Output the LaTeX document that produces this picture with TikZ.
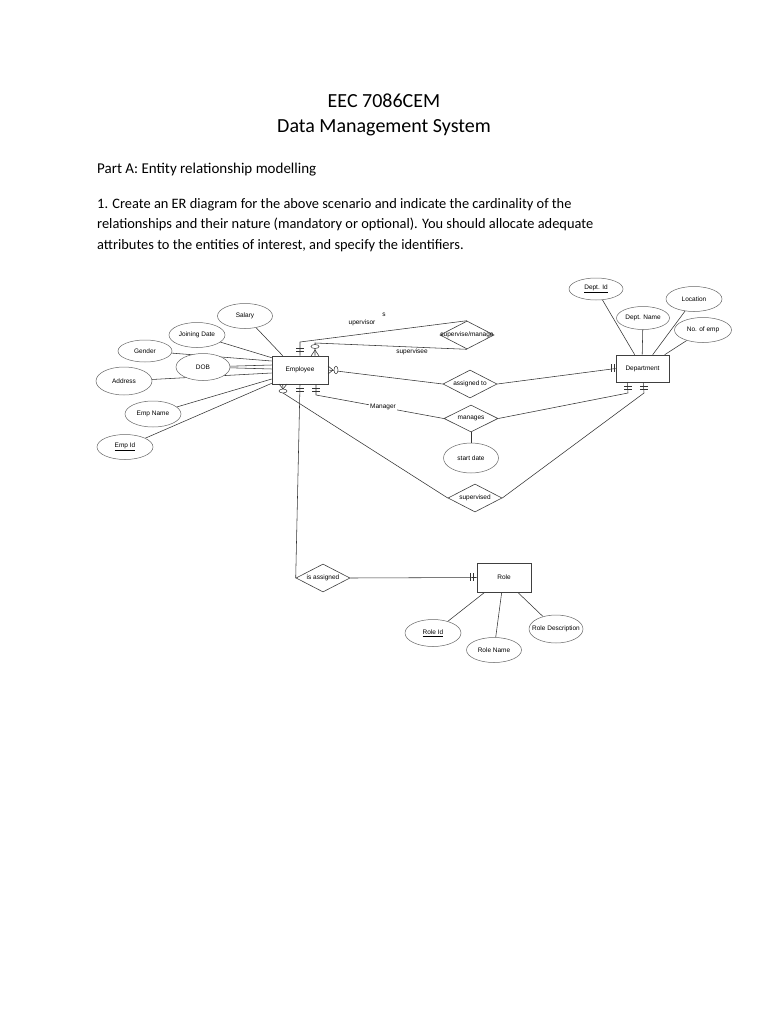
\documentclass[tikz,border=0pt]{standalone}
\usepackage{fontspec}
\setmainfont{Carlito}
\newfontfamily\arialf{Liberation Sans}
\usetikzlibrary{shapes.geometric,calc}
\pgfdeclarelayer{bg}
\pgfdeclarelayer{paper}
\pgfsetlayers{paper,bg,main}
\begin{document}
\begin{tikzpicture}[x=1pt,y=-1pt,
  ent/.style={draw=black!75, fill=white, line width=0.6pt, inner sep=0pt, font=\arialf\fontsize{6.5}{7}\selectfont},
  attr/.style={ellipse, draw=black!60, fill=white, line width=0.5pt, inner sep=0pt},
  rel/.style={diamond, draw=black!75, fill=white, line width=0.6pt, minimum width=54pt, minimum height=28pt, inner sep=0pt},
  lab/.style={font=\arialf\fontsize{6.5}{7}\selectfont, inner sep=0pt},
  conn/.style={draw=black!80, line width=0.55pt},
  sym/.style={draw=black!80, line width=0.55pt},
  ring/.style={draw=black!80, fill=white, line width=0.5pt},
  body/.style={anchor=base west, inner sep=0pt, font=\fontsize{14.4}{16}\selectfont},
  title/.style={anchor=base, inner sep=0pt, font=\fontsize{20}{24}\selectfont}
]
\begin{pgfonlayer}{paper}
\fill[white] (0,0) rectangle (768,1024);
\end{pgfonlayer}
\useasboundingbox (0,0) rectangle (768,1024);

% header
\node[title] (t1) at (384,108) {EEC 7086CEM};
\node[title] (t2) at (384,133) {Data Management System};
\node[body, font=\fontsize{15}{16}\selectfont] (pa) at (97,174) {Part A: Entity relationship modelling};
\node[body] (q1) at (97,209) {1. Create an ER diagram for the above scenario and indicate the cardinality of the};
\node[body] (q2) at (97,229) {relationships and their nature (mandatory or optional). You should allocate adequate};
\node[body] (q3) at (97,249) {attributes to the entities of interest, and specify the identifiers.};

% entities
\node[ent, minimum width=56pt, minimum height=28pt] (emp) at (300,370) {Employee};
\node[ent, minimum width=53pt, minimum height=27pt] (dept) at (642.5,368.5) {Department};
\node[ent, minimum width=54pt, minimum height=29pt] (role) at (504,577.5) {Role};

% relationships
\node[rel] (sm) at (467,335) {};
\node[lab] (smt) at (sm.center) {supervise/manage};
\node[rel] (as) at (470,384) {};
\node[lab] (ast) at (as.center) {assigned to};
\node[rel, minimum height=27pt] (man) at (471,418.5) {};
\node[lab] (mant) at (man.center) {manages};
\node[rel] (sp) at (475,498) {};
\node[lab] (spt) at (sp.center) {supervised};
\node[rel] (isa) at (323,578) {};
\node[lab] (isat) at (isa.center) {is assigned};

% attributes
\node[attr, minimum width=55pt, minimum height=25pt, label={[lab]center:Salary}] (sal) at (245,316) {};
\node[attr, minimum width=56pt, minimum height=25pt, label={[lab]center:Joining Date}] (jd) at (197,335) {};
\node[attr, minimum width=54pt, minimum height=22pt, label={[lab]center:Gender}] (gen) at (145,351) {};
\node[attr, minimum width=54pt, minimum height=27pt, label={[lab]center:DOB}] (dob) at (203,367) {};
\node[attr, minimum width=56pt, minimum height=28pt, label={[lab]center:Address}] (adr) at (124,381) {};
\node[attr, minimum width=56pt, minimum height=26pt, label={[lab]center:Emp Name}] (enm) at (153,414) {};
\node[attr, minimum width=56pt, minimum height=25pt, label={[lab]center:\underline{Emp Id}}] (eid) at (125,447) {};
\node[attr, minimum width=54pt, minimum height=22pt, label={[lab]center:\underline{Dept. Id}}] (did) at (596,289) {};
\node[attr, minimum width=53pt, minimum height=23pt, label={[lab]center:Dept. Name}] (dnm) at (643,318) {};
\node[attr, minimum width=56pt, minimum height=25pt, label={[lab]center:Location}] (loc) at (694,299) {};
\node[attr, minimum width=57pt, minimum height=25pt, label={[lab]center:No. of emp}] (noe) at (703,330) {};
\node[attr, minimum width=55pt, minimum height=30pt, label={[lab]center:start date}] (sd) at (471,458) {};
\node[attr, minimum width=56pt, minimum height=27pt, label={[lab]center:\underline{Role Id}}] (rid) at (433,633) {};
\node[attr, minimum width=55pt, minimum height=25pt, label={[lab]center:Role Name}] (rnm) at (494,650) {};
\node[attr, minimum width=54pt, minimum height=28pt, label={[lab]center:Role Description}] (rds) at (556,629) {};

% connectors (behind)
\begin{pgfonlayer}{bg}
\draw[conn] (sal) -- ($(emp.north west)+(11,0)$);
\draw[conn] (jd) -- ($(emp.north west)+(0,2)$);
\draw[conn] (gen) -- ($(emp.west)+(0,-9)$);
\draw[conn] (dob) -- ($(emp.west)+(0,-5)$);
\draw[conn] (dob) -- ($(emp.west)+(0,-1)$);
\draw[conn] (adr) -- ($(emp.west)+(0,3)$);
\draw[conn] (enm) -- ($(emp.west)+(0,9)$);
\draw[conn] (eid) -- ($(emp.south west)+(0,-1)$);
\draw[conn] (did) -- ($(dept.north west)+(19,0)$);
\draw[conn] (dnm) -- ($(dept.north west)+(26.5,0)$);
\draw[conn] (loc) -- ($(dept.north west)+(37,0)$);
\draw[conn] (noe) -- ($(dept.north west)+(49,0)$);
\draw[conn] (man) -- (sd);
\draw[conn] (rid) -- ($(role.south west)+(8,0)$);
\draw[conn] (rnm) -- ($(role.south west)+(25,0)$);
\draw[conn] (rds) -- ($(role.south west)+(41,0)$);
\end{pgfonlayer}

% relationship connectors
\coordinate (sv1) at (300,342);
\coordinate (sv2) at (315,343);
\draw[conn] (emp.north) -- (sv1) -- (sm.north);
\draw[conn] ($(emp.north)+(15,0)$) -- (sv2) -- (sm.south);
\draw[conn] (emp.east) -- (as.west);
\draw[conn] (as.east) -- (dept.west);
\coordinate (mg1) at (316,395);
\coordinate (mg2) at (628,393);
\draw[conn] ($(emp.south)+(16,0)$) -- (mg1) -- (man.west);
\draw[conn] ($(dept.south west)+(11.5,0)$) -- (mg2) -- (man.east);
\coordinate (sp1) at (283,393);
\coordinate (sp2) at (644,393);
\draw[conn] ($(emp.south west)+(11,0)$) -- (sp1) -- (sp.west);
\draw[conn] ($(dept.south west)+(27.5,0)$) -- (sp2) -- (sp.east);
\draw[conn] (emp.south) -- (isa.west);
\draw[conn] (isa.east) -- (role.west);

% connector labels
\node[lab] (ls) at (384,315) {s};
\node[lab] (lsup) at (362,323) {upervisor};
\node[lab] (lsee) at (412,352) {supervisee};
\node[lab, fill=white, inner sep=1pt] (lmgr) at (383,407) {Manager};

% cardinality symbols
% Employee top
\draw[sym] (296,348) -- (304,348) (296,351) -- (304,351);
\draw[sym] (311,356) -- (315,350) -- (319,356);
\draw[ring] (315,346.5) ellipse [x radius=4, y radius=2];
% Employee right
\draw[sym] (328,366) -- (333,370) -- (328,374);
\draw[ring] (336,370) ellipse [x radius=2, y radius=3.8];
% Department left
\draw[sym] (611,364) -- (611,372) (614,364) -- (614,372);
% Employee bottom
\draw[sym] (279,384) -- (283,389) -- (287,384);
\draw[ring] (283,391) ellipse [x radius=4, y radius=2];
\draw[sym] (296,388) -- (304,388) (296,391) -- (304,391);
\draw[sym] (312,388) -- (320,388) (312,391) -- (320,391);
% Department bottom
\draw[sym] (624,386) -- (632,386) (624,389) -- (632,389);
\draw[sym] (640,386) -- (648,386) (640,389) -- (648,389);
% Role left
\draw[sym] (470,573) -- (470,581) (473,573) -- (473,581);
\end{tikzpicture}
\end{document}
